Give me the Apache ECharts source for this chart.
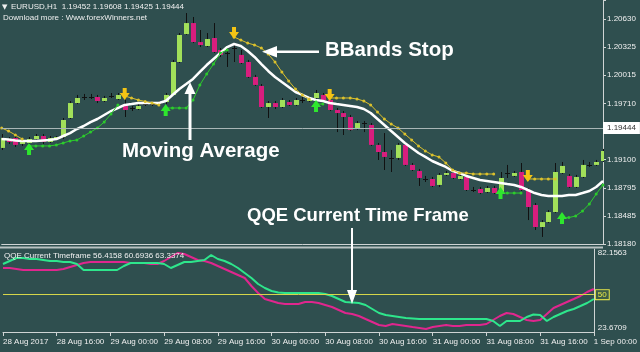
<!DOCTYPE html>
<html><head><meta charset="utf-8">
<script src="https://cdn.jsdelivr.net/npm/echarts@6/dist/echarts.min.js"></script>
<style>html,body{margin:0;padding:0;background:#2f4f4f;}#c{width:640px;height:352px;}</style>
</head><body><div id="c"></div><script>
// ---------- data ----------
const days = ['28 Aug','29 Aug','30 Aug','31 Aug','1 Sep'];
const timeTicks = ['28 Aug 2017','28 Aug 16:00','29 Aug 00:00','29 Aug 08:00','29 Aug 16:00','30 Aug 00:00','30 Aug 08:00','30 Aug 16:00','31 Aug 00:00','31 Aug 08:00','31 Aug 16:00','1 Sep 00:00'];
const priceTicks = ['1.20630','1.20325','1.20015','1.19710','1.19100','1.18795','1.18485','1.18180'];
const qqeTicks = ['82.1563','23.6709'];

const openP = [1.19226,1.19323,1.19334,1.19269,1.19280,1.19323,1.19356,1.19291,1.19323,1.19345,1.19552,1.19715,1.19776,1.19781,1.19781,1.19737,1.19792,1.19759,1.19704,1.19661,1.19650,1.19704,1.19708,1.19715,1.19726,1.19803,1.20162,1.20466,1.20586,1.20379,1.20336,1.20423,1.20293,1.20260,1.20314,1.20239,1.20162,1.19999,1.19901,1.19672,1.19715,1.19672,1.19726,1.19694,1.19748,1.19737,1.19770,1.19803,1.19748,1.19639,1.19606,1.19563,1.19432,1.19497,1.19476,1.19259,1.19182,1.19117,1.19117,1.19259,1.19041,1.18975,1.18888,1.18888,1.18823,1.18932,1.18953,1.18888,1.18910,1.18768,1.18779,1.18746,1.18790,1.18735,1.18953,1.18921,1.18964,1.18768,1.18605,1.18365,1.18419,1.18528,1.18953,1.18921,1.18801,1.18910,1.19041,1.19041,1.19084];
const closeP = [1.19334,1.19291,1.19259,1.19302,1.19323,1.19356,1.19291,1.19334,1.19345,1.19530,1.19715,1.19770,1.19776,1.19781,1.19737,1.19770,1.19792,1.19803,1.19639,1.19661,1.19683,1.19704,1.19708,1.19715,1.19803,1.20162,1.20456,1.20586,1.20379,1.20347,1.20412,1.20271,1.20239,1.20260,1.20314,1.20151,1.19999,1.19912,1.19672,1.19715,1.19672,1.19748,1.19694,1.19748,1.19748,1.19759,1.19824,1.19748,1.19639,1.19606,1.19563,1.19421,1.19497,1.19497,1.19259,1.19182,1.19128,1.19117,1.19259,1.19041,1.18986,1.18899,1.18888,1.18812,1.18932,1.18953,1.18899,1.18921,1.18768,1.18768,1.18735,1.18790,1.18735,1.18899,1.18953,1.18953,1.18768,1.18583,1.18365,1.18419,1.18528,1.18964,1.19030,1.18801,1.18910,1.19041,1.19041,1.19073,1.19193];
const lowP = [1.19204,1.19269,1.19237,1.19248,1.19259,1.19302,1.19269,1.19280,1.19313,1.19323,1.19541,1.19704,1.19748,1.19759,1.19715,1.19726,1.19770,1.19748,1.19563,1.19628,1.19639,1.19683,1.19683,1.19694,1.19704,1.19792,1.20151,1.20456,1.20368,1.20325,1.20325,1.20260,1.20217,1.20108,1.20162,1.20140,1.19988,1.19901,1.19661,1.19552,1.19650,1.19661,1.19683,1.19683,1.19715,1.19726,1.19759,1.19737,1.19628,1.19399,1.19367,1.19410,1.19421,1.19399,1.19248,1.19095,1.18986,1.18964,1.19095,1.19030,1.18975,1.18812,1.18855,1.18801,1.18801,1.18921,1.18888,1.18877,1.18757,1.18746,1.18724,1.18735,1.18724,1.18724,1.18899,1.18910,1.18757,1.18441,1.18333,1.18257,1.18408,1.18517,1.18942,1.18790,1.18790,1.18899,1.19019,1.19030,1.19073];
const highP = [1.19377,1.19345,1.19356,1.19323,1.19345,1.19377,1.19377,1.19356,1.19356,1.19552,1.19737,1.19803,1.19814,1.19814,1.19803,1.19792,1.19824,1.19824,1.19748,1.19683,1.19704,1.19726,1.19726,1.19737,1.19824,1.20184,1.20477,1.20695,1.20652,1.20510,1.20477,1.20586,1.20314,1.20325,1.20368,1.20293,1.20184,1.20021,1.19922,1.19737,1.19737,1.19770,1.19748,1.19770,1.19781,1.19781,1.19857,1.19824,1.19759,1.19661,1.19628,1.19585,1.19519,1.19519,1.19497,1.19280,1.19388,1.19204,1.19280,1.19280,1.19062,1.18997,1.18921,1.18910,1.18953,1.18975,1.18975,1.18942,1.18932,1.18801,1.18801,1.18812,1.18812,1.18964,1.19041,1.18975,1.19062,1.18790,1.18626,1.18441,1.18550,1.19062,1.19073,1.18942,1.18932,1.19095,1.19073,1.19095,1.19215];

const movingAverage = [1.19323,1.19318,1.19308,1.19302,1.19302,1.19302,1.19308,1.19313,1.19323,1.19356,1.19388,1.19432,1.19465,1.19508,1.19541,1.19585,1.19628,1.19661,1.19694,1.19704,1.19715,1.19715,1.19715,1.19715,1.19737,1.19803,1.19868,1.19922,1.19977,1.20053,1.20129,1.20195,1.20260,1.20325,1.20358,1.20336,1.20282,1.20217,1.20140,1.20064,1.19999,1.19944,1.19890,1.19835,1.19803,1.19770,1.19748,1.19737,1.19715,1.19704,1.19694,1.19683,1.19672,1.19650,1.19606,1.19541,1.19476,1.19410,1.19345,1.19280,1.19226,1.19171,1.19128,1.19084,1.19051,1.19019,1.18975,1.18953,1.18921,1.18899,1.18877,1.18866,1.18855,1.18844,1.18833,1.18823,1.18801,1.18768,1.18735,1.18714,1.18703,1.18703,1.18703,1.18714,1.18714,1.18735,1.18757,1.18801,1.18866];

const _ = null;
const bbStopDown = [1.19443,1.19410,1.19367,1.19323,_,_,_,_,_,_,_,_,_,_,_,_,_,_,1.19792,1.19770,1.19748,1.19732,1.19715,1.19694,_,_,_,_,_,_,_,_,_,_,1.20434,1.20401,1.20368,1.20347,1.20314,1.20249,1.20162,1.20053,1.19955,1.19868,1.19803,1.19759,_,_,1.19770,1.19770,1.19770,1.19770,1.19759,1.19737,1.19694,1.19617,1.19541,1.19487,1.19443,1.19377,1.19313,1.19248,1.19193,1.19150,1.19128,1.19062,1.18986,1.18953,1.18953,1.18942,1.18942,1.18942,1.18942,_,_,_,_,1.18888,1.18888,1.18888,1.18888,1.18888,_,_,_,_,_,_,_];
const bbStopUp = [_,_,_,_,1.19248,1.19248,1.19248,1.19248,1.19259,1.19280,1.19302,1.19313,1.19356,1.19399,1.19443,1.19508,1.19596,1.19694,_,_,_,_,_,_,1.19661,1.19661,1.19661,1.19661,1.19748,1.19912,1.20031,1.20140,1.20260,1.20293,_,_,_,_,_,_,_,_,_,_,_,_,1.19704,1.19704,_,_,_,_,_,_,_,_,_,_,_,_,_,_,_,_,_,_,_,_,_,_,_,_,_,1.18735,1.18735,1.18735,1.18735,_,_,_,_,_,1.18463,1.18468,1.18485,1.18539,1.18615,1.18724,1.18823];
const sellArrows = [[18,1.19814],[34,1.20477],[48,1.19803],[77,1.18921]];
const buyArrows = [[4,1.19215],[24,1.19639],[46,1.19683],[73,1.18735],[82,1.18463]];

const qqeFast = [68.77,68.77,68.06,67.36,67.36,67.36,67.36,67.36,67.36,68.06,69.47,70.88,72.29,73.00,73.00,73.00,73.00,73.00,73.00,72.29,72.29,72.29,71.59,71.59,73.70,76.52,79.34,78.63,76.52,74.41,73.70,72.29,70.18,68.06,65.95,63.84,61.72,56.08,51.15,46.92,45.51,44.11,43.40,43.40,43.40,44.81,44.81,44.11,42.70,41.29,39.17,37.06,36.35,34.95,32.83,30.72,28.60,27.90,29.31,28.60,27.90,27.19,26.49,25.78,27.19,27.90,28.60,27.90,27.90,28.60,28.60,28.60,29.31,32.13,34.95,37.06,36.35,34.24,32.13,31.42,32.13,36.35,40.58,42.70,44.81,46.92,49.04,51.86,53.97];
const qqeSlow = [71.59,73.70,75.81,75.81,75.11,75.11,74.41,73.70,73.70,73.00,73.00,71.59,67.36,67.36,67.36,67.36,67.36,67.36,70.18,72.29,72.29,72.29,72.29,72.29,71.59,68.77,70.88,73.00,73.00,73.70,74.41,77.93,75.11,73.70,71.59,68.77,65.25,61.72,57.49,54.68,52.56,51.50,51.15,51.15,51.15,51.15,51.15,51.15,50.45,49.04,46.92,44.81,44.46,44.11,42.70,39.88,37.06,35.65,34.95,34.24,33.54,33.19,32.83,32.83,32.83,32.83,32.83,32.83,32.83,32.83,32.83,32.83,32.83,31.42,27.90,31.42,31.42,31.42,34.24,36.00,35.65,31.42,34.24,36.35,38.47,39.88,41.99,44.11,46.92];
const bidPrice = 1.19444;
const qqeLevel = 50;

// ---------- chart ----------
const barTimes = [];
for (let h = 8; h <= 96; h++) barTimes.push(days[Math.floor(h / 24)] + ' ' + String(h % 24).padStart(2, '0') + ':00');
const candles = openP.map((o, i) => [i, o, closeP[i], lowP[i], highP[i]]);

const FONT = '"Liberation Sans", "DejaVu Sans", sans-serif';
const TXT = '#f0f0f0';
const AXIS = '#cfd4d4';
const BULL = '#a2e05a', BEAR = '#d81e7e', WICK = '#111111';

function renderCandle(params, api) {
  const i = api.value(0), o = api.value(1), c = api.value(2), l = api.value(3), h = api.value(4);
  const po = api.coord([i, o]), pc = api.coord([i, c]), pl = api.coord([i, l]), ph = api.coord([i, h]);
  const x = Math.round(po[0]) + 0.5;
  const top = Math.min(po[1], pc[1]), bot = Math.max(po[1], pc[1]);
  const kids = [{type: 'line', shape: {x1: x, y1: ph[1], x2: x, y2: pl[1]}, style: {stroke: WICK, lineWidth: 1}}];
  if (bot - top < 1) {
    const yy = Math.round(top) + 0.5;
    kids.push({type: 'line', shape: {x1: x - 2.5, y1: yy, x2: x + 2.5, y2: yy}, style: {stroke: WICK, lineWidth: 1}});
  } else {
    kids.push({type: 'rect', shape: {x: x - 2.5, y: top, width: 5, height: bot - top}, style: {fill: c > o ? BULL : BEAR}});
  }
  return {type: 'group', children: kids};
}

const tickEvery = (idx) => idx % 8 === 0;
const chart = echarts.init(document.getElementById('c'), null, {renderer: 'canvas', width: 640, height: 352});
const option = {
  backgroundColor: '#2f4f4f',
  animation: false,
  grid: [
    {left: 1.7, right: 37, top: 0, bottom: 108},
    {left: 1.7, right: 37, top: 249, bottom: 20}
  ],
  xAxis: [
    {type: 'category', gridIndex: 0, data: barTimes, boundaryGap: false,
     axisLine: {lineStyle: {color: AXIS, width: 1}}, axisTick: {show: false}, axisLabel: {show: false}, splitLine: {show: false}},
    {type: 'category', gridIndex: 1, data: barTimes, boundaryGap: false,
     axisLine: {lineStyle: {color: AXIS, width: 1}},
     axisTick: {show: true, interval: tickEvery, length: 4, lineStyle: {color: AXIS}},
     axisLabel: {interval: tickEvery, formatter: (v, idx) => timeTicks[idx / 8] || '', align: 'left', color: TXT, fontSize: 8, fontFamily: FONT, margin: 6},
     splitLine: {show: false}}
  ],
  yAxis: [
    {type: 'value', gridIndex: 0, position: 'right', min: 1.18180, max: 1.20837, interval: 0.0030625, scale: true,
     axisLine: {show: true, lineStyle: {color: AXIS}}, axisTick: {show: true, length: 3, lineStyle: {color: AXIS}},
     splitLine: {show: false},
     axisLabel: {color: TXT, fontSize: 8, fontFamily: FONT, margin: 4, showMinLabel: true, showMaxLabel: true,
       formatter: v => { for (const t of priceTicks) if (Math.abs(parseFloat(t) - v) < 0.0002) return t; return ''; }}},
    {type: 'value', gridIndex: 1, position: 'right', min: 23.6709, max: 82.1563, interval: 58.4854, scale: true,
     axisLine: {show: true, lineStyle: {color: AXIS}}, axisTick: {show: false}, splitLine: {show: false},
     axisLabel: {color: TXT, fontSize: 8, fontFamily: FONT, margin: 4, showMinLabel: true, showMaxLabel: true,
       formatter: v => Math.abs(v - parseFloat(qqeTicks[0])) < 0.01 ? '{t|' + qqeTicks[0] + '}' : (Math.abs(v - parseFloat(qqeTicks[1])) < 0.01 ? '{b|' + qqeTicks[1] + '}' : ''),
       rich: {t: {color: TXT, fontSize: 8, fontFamily: FONT, padding: [8, 0, 0, 0]}, b: {color: TXT, fontSize: 8, fontFamily: FONT, padding: [0, 0, 8, 0]}}}}
  ],
  series: [
    {type: 'custom', name: 'EURUSD', xAxisIndex: 0, yAxisIndex: 0, data: candles, renderItem: renderCandle, clip: true,
     encode: {x: 0, y: [1, 2, 3, 4]}, z: 2},
    {type: 'line', name: 'MA', xAxisIndex: 0, yAxisIndex: 0, data: movingAverage, showSymbol: false, smooth: false,
     lineStyle: {color: '#ffffff', width: 2.5}, z: 3,
     markLine: {silent: true, symbol: 'none', animation: false, precision: 5,
       data: [{yAxis: bidPrice}], lineStyle: {color: '#a9b6b6', width: 1, type: 'solid'},
       label: {position: 'end', distance: 0, formatter: bidPrice.toFixed(5), backgroundColor: '#ffffff', color: '#333', fontSize: 8, fontFamily: FONT, padding: [2, 4, 2, 4]}}},
    {type: 'line', name: 'BBStopDown', xAxisIndex: 0, yAxisIndex: 0, data: bbStopDown, connectNulls: false,
     symbol: 'circle', symbolSize: 3, showSymbol: true, itemStyle: {color: '#dcc12c'}, lineStyle: {color: '#dcc12c', width: 1}, z: 4},
    {type: 'line', name: 'BBStopUp', xAxisIndex: 0, yAxisIndex: 0, data: bbStopUp, connectNulls: false,
     symbol: 'circle', symbolSize: 3, showSymbol: true, itemStyle: {color: '#2ccc2c'}, lineStyle: {color: '#2ccc2c', width: 1}, z: 4},
    {type: 'scatter', xAxisIndex: 0, yAxisIndex: 0, data: sellArrows, symbol: 'path://M3 0 H7 V5 H10 L5 12 L0 5 H3 Z', symbolSize: [10, 12],
     itemStyle: {color: '#f4c414', opacity: 1}, z: 5},
    {type: 'scatter', xAxisIndex: 0, yAxisIndex: 0, data: buyArrows, symbol: 'path://M5 0 L10 7 H7 V12 H3 V7 H0 Z', symbolSize: [10, 12],
     itemStyle: {color: '#2ee62e', opacity: 1}, z: 5},
    {type: 'line', name: 'QQE fast', xAxisIndex: 1, yAxisIndex: 1, data: qqeFast, showSymbol: false,
     lineStyle: {color: '#e0268e', width: 2}, z: 3,
     markLine: {silent: true, symbol: 'none', animation: false, precision: 4, data: [{yAxis: qqeLevel}],
       lineStyle: {color: '#d6d64a', width: 1, type: 'solid'},
       label: {position: 'end', distance: 2, formatter: String(qqeLevel), color: '#e8e84a', backgroundColor: '#3d5d46', borderColor: '#e8e84a', borderWidth: 1, fontSize: 8, fontFamily: FONT, padding: [1, 2, 0, 2]}}},
    {type: 'line', name: 'QQE slow', xAxisIndex: 1, yAxisIndex: 1, data: qqeSlow, showSymbol: false,
     lineStyle: {color: '#2ee68c', width: 2}, z: 4}
  ],
  graphic: [
    {type: 'line', shape: {x1: 0, y1: 247.5, x2: 603, y2: 247.5}, style: {stroke: '#b8c2c2', lineWidth: 2}, z: 10},
    {type: 'text', x: 2, y: 7, style: {text: '▼', fill: TXT, font: '7px "DejaVu Sans"', verticalAlign: 'middle'}},
    {type: 'text', x: 11, y: 7, style: {text: 'EURUSD,H1  1.19452 1.19608 1.19425 1.19444', fill: TXT, font: '8px ' + FONT, verticalAlign: 'middle'}},
    {type: 'text', x: 3, y: 18, style: {text: 'Download more : Www.forexWinners.net', fill: TXT, font: '8px ' + FONT, verticalAlign: 'middle'}},
    {type: 'text', x: 4, y: 256, style: {text: 'QQE Current Timeframe 56.4158 60.6936 63.3374', fill: TXT, font: '8px ' + FONT, verticalAlign: 'middle'}, z: 10},
    // annotations
    {type: 'text', x: 325, y: 50, style: {text: 'BBands Stop', fill: '#ffffff', font: 'bold 20.5px ' + FONT, verticalAlign: 'middle'}, z: 20},
    {type: 'rect', shape: {x: 276, y: 50.5, width: 43, height: 2.5}, style: {fill: '#ffffff'}, z: 20},
    {type: 'polygon', shape: {points: [[262, 51.75], [277, 46], [277, 57.5]]}, style: {fill: '#ffffff'}, z: 20},
    {type: 'text', x: 122, y: 151, style: {text: 'Moving Average', fill: '#ffffff', font: 'bold 20.5px ' + FONT, verticalAlign: 'middle'}, z: 20},
    {type: 'rect', shape: {x: 188.5, y: 92, width: 3, height: 48}, style: {fill: '#ffffff'}, z: 20},
    {type: 'polygon', shape: {points: [[190, 82], [184.5, 94], [195.5, 94]]}, style: {fill: '#ffffff'}, z: 20},
    {type: 'text', x: 247, y: 216, style: {text: 'QQE Current Time Frame', fill: '#ffffff', font: 'bold 18.5px ' + FONT, verticalAlign: 'middle'}, z: 20},
    {type: 'rect', shape: {x: 351, y: 228, width: 2, height: 64}, style: {fill: '#ffffff'}, z: 20},
    {type: 'polygon', shape: {points: [[352, 304], [347, 290], [357, 290]]}, style: {fill: '#ffffff'}, z: 20}
  ]
};
chart.setOption(option);
</script></body></html>
